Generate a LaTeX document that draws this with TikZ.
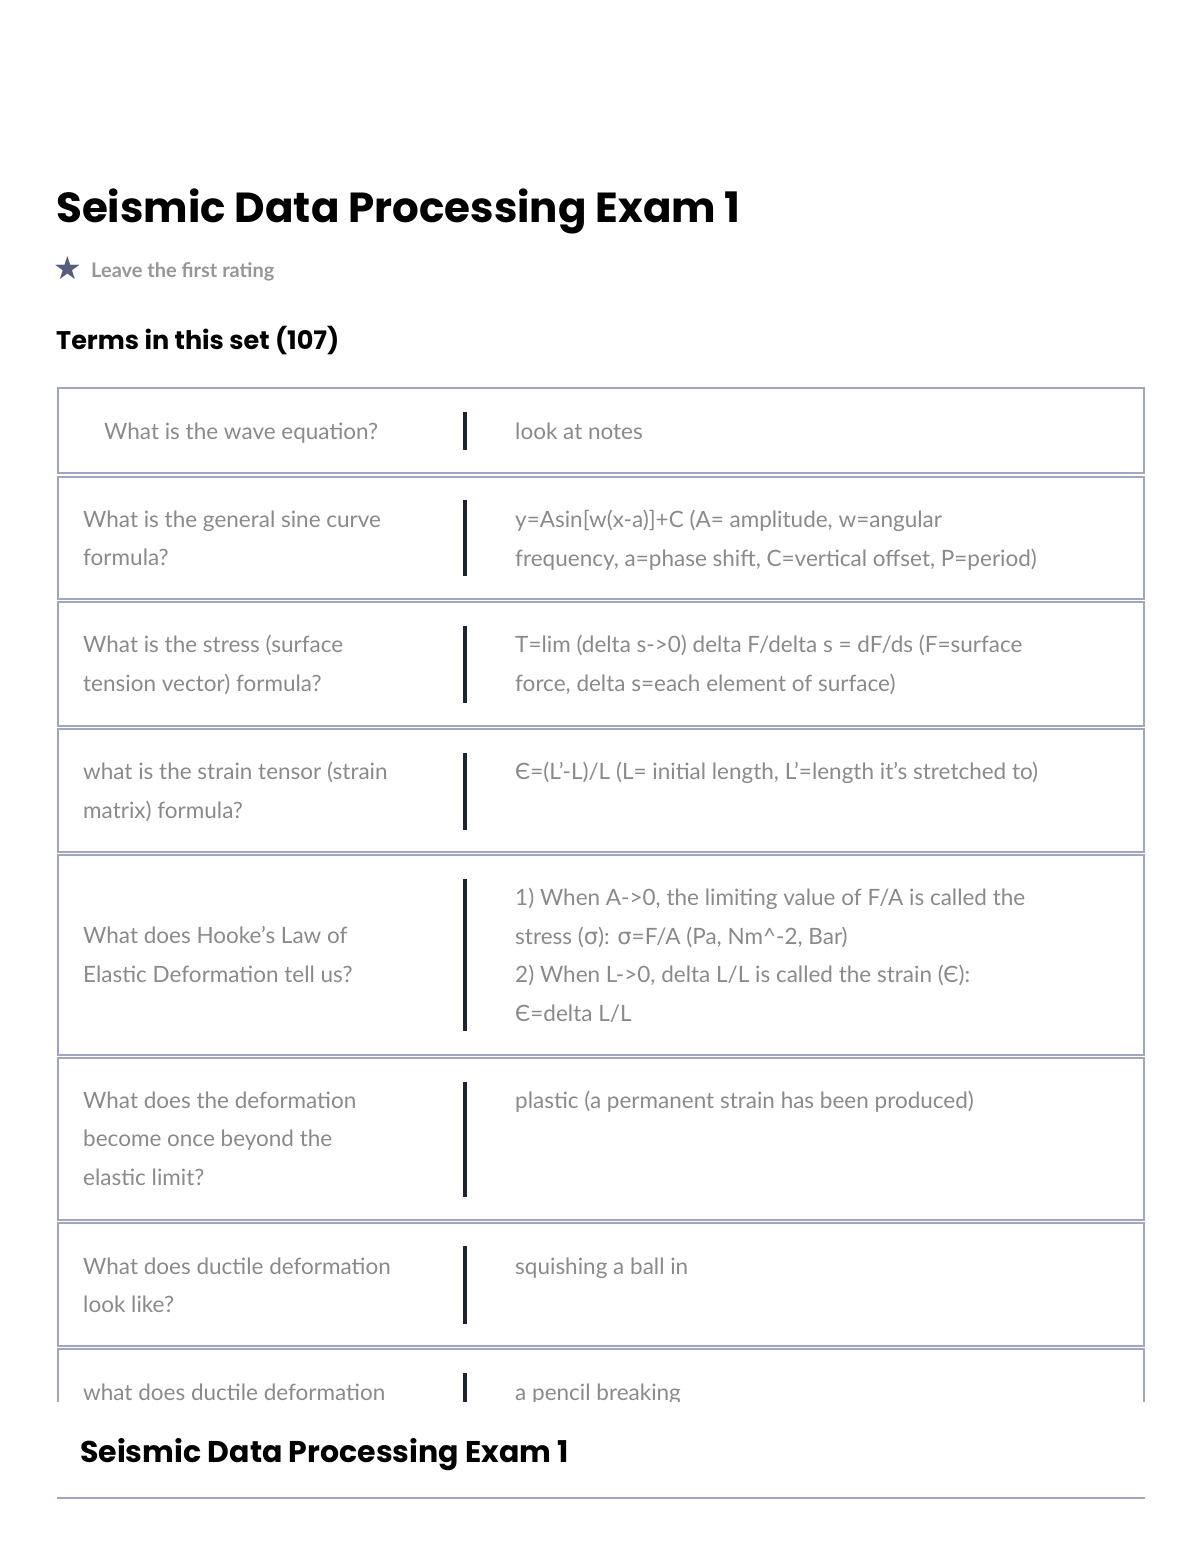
\documentclass[tikz,border=0pt]{standalone}
\usepackage{fontspec}
\setmainfont{Lato}
\newfontfamily\titlefont{Poppins}
\newfontfamily\symfont{DejaVu Sans}
\definecolor{txt}{HTML}{8A8A8A}
\definecolor{rowline}{HTML}{A0A6BC}
\definecolor{bar}{HTML}{1E2433}
\definecolor{star}{HTML}{555D7C}
\begin{document}
\begin{tikzpicture}[x=1pt,y=-1pt,
  rowbox/.style={draw=rowline,line width=2.5pt},
  divbar/.style={draw=bar,line width=3.5pt},
  q/.style={anchor=base west,text=txt,font=\fontsize{22.5}{38.5}\selectfont,align=left,inner xsep=0pt},
  title/.style={anchor=base west,font=\titlefont\bfseries\fontsize{42}{50}\selectfont,inner xsep=0pt}]
\useasboundingbox (0,0) rectangle (1200,1553);
\node[title] (t) at (56,222) {Seismic Data Processing Exam 1};
\node[anchor=center,text=star,font=\symfont\fontsize{32}{32}\selectfont] (st) at (68,268) {★};
\node[anchor=base west,text=txt!90,font=\bfseries\fontsize{20}{20}\selectfont,inner xsep=0pt] (r) at (91,277) {Leave the first rating};
\node[anchor=base west,font=\titlefont\bfseries\fontsize{25.5}{25}\selectfont,inner xsep=0pt] (ts) at (56,349) {Terms in this set (107)};
% rows
\draw[rowbox] (58,388) rectangle (1144,473);
\draw[rowbox] (58,477) rectangle (1144,599);
\draw[rowbox] (58,602) rectangle (1144,726);
\draw[rowbox] (58,729) rectangle (1144,852);
\draw[rowbox] (58,855) rectangle (1144,1055);
\draw[rowbox] (58,1058) rectangle (1144,1220);
\draw[rowbox] (58,1223) rectangle (1144,1346);
\begin{scope}
\clip (0,1340) rectangle (1200,1401);
\draw[rowbox] (58,1349) rectangle (1144,1500);
\draw[divbar] (465,1373) -- (465,1410);
\node[q] (q8) at (83,1400) {what does ductile deformation};
\node[q] (a8) at (515,1400) {a pencil breaking};
\end{scope}
\draw[divbar] (465,412) -- (465,450);
\draw[divbar] (465,500) -- (465,576);
\draw[divbar] (465,626) -- (465,703);
\draw[divbar] (465,753) -- (465,830);
\draw[divbar] (465,879) -- (465,1031);
\draw[divbar] (465,1082) -- (465,1197);
\draw[divbar] (465,1246) -- (465,1324);
\node[q] (q1) at (104,439) {What is the wave equation?};
\node[q] (a1) at (515,439) {look at notes};
\node[q,anchor=north west] (q2) at (83,507) {What is the general sine curve\\formula?};
\node[q,anchor=north west] (a2) at (515,507) {y=Asin[w(x-a)]+C (A= amplitude, w=angular\\frequency, a=phase shift, C=vertical offset, P=period)};
\node[q,anchor=north west] (q3) at (83,632) {What is the stress (surface\\tension vector) formula?};
\node[q,anchor=north west] (a3) at (515,632) {T=lim (delta s->0) delta F/delta s = dF/ds (F=surface\\force, delta s=each element of surface)};
\node[q,anchor=north west] (q4) at (83,759) {what is the strain tensor (strain\\matrix) formula?};
\node[q,anchor=north west] (a4) at (515,759) {Є=(L'-L)/L (L= initial length, L'=length it's stretched to)};
\node[q,anchor=north west] (q5) at (83,923) {What does Hooke's Law of\\Elastic Deformation tell us?};
\node[q,anchor=north west] (a5) at (515,885) {1) When A->0, the limiting value of F/A is called the\\stress ({\symfont σ}): {\symfont σ}=F/A (Pa, Nm\^{}-2, Bar)\\2) When L->0, delta L/L is called the strain (Є):\\Є=delta L/L};
\node[q,anchor=north west] (q6) at (83,1088) {What does the deformation\\become once beyond the\\elastic limit?};
\node[q,anchor=north west] (a6) at (515,1088) {plastic (a permanent strain has been produced)};
\node[q,anchor=north west] (q7) at (83,1254) {What does ductile deformation\\look like?};
\node[q,anchor=north west] (a7) at (515,1254) {squishing a ball in};
\node[anchor=base west,font=\titlefont\bfseries\fontsize{30}{30}\selectfont,inner xsep=0pt] (ft) at (80,1462) {Seismic Data Processing Exam 1};
\draw[draw=rowline,line width=1.5pt] (57,1498) -- (1145,1498);
\end{tikzpicture}
\end{document}
